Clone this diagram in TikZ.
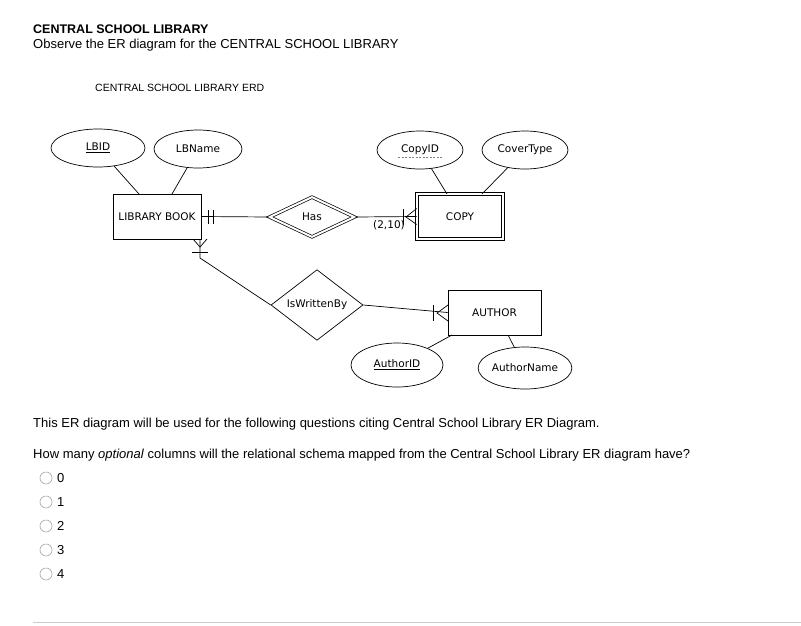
\documentclass[tikz,border=0pt]{standalone}
\usepackage{fontspec}
\setmainfont{Liberation Sans}
\newfontfamily\dv{DejaVu Sans}
\usetikzlibrary{shapes.geometric,calc}
\begin{document}
\begin{tikzpicture}[x=1pt,y=-1pt,
  lw/.style={line width=0.7pt},
  dfont/.style={font=\dv\fontsize{10.5}{12}\selectfont},
  ent/.style={draw,lw,minimum width=#1,minimum height=45pt,inner sep=0pt,dfont},
  att/.style={draw,lw,ellipse,minimum width=#1,minimum height=38pt,inner sep=0pt,dfont},
  rel/.style={draw,lw,diamond,minimum width=#1,minimum height=44pt,inner sep=0pt,dfont},
  txt/.style={anchor=west,inner sep=0pt,font=\fontsize{13}{15}\selectfont},
  radio/.style={draw=gray!70,line width=0.6pt,circle,minimum size=12pt,inner sep=0pt}]
\useasboundingbox (0,0) rectangle (801,625);
\node[txt,font=\bfseries\fontsize{12.5}{15}\selectfont] (t1) at (33,29) {CENTRAL SCHOOL LIBRARY};
\node[txt] (t2) at (33,45) {Observe the ER diagram for the CENTRAL SCHOOL LIBRARY};
\node[txt,font=\fontsize{10.5}{12}\selectfont] (t3) at (95,88) {CENTRAL SCHOOL LIBRARY ERD};
% entities
\node[ent=88pt] (lb) at (157,216.5) {LIBRARY BOOK};
\node[ent=86pt,double,double distance=2pt] (cp) at (460,216.5) {COPY};
\node[ent=93pt] (au) at (494.5,312.5) {AUTHOR};
% attributes
\node[att=94pt] (lbid) at (98,148) {\underline{LBID}};
\node[att=88pt] (lbn) at (198,149) {LBName};
\node[att=86pt] (cid) at (420,150) {CopyID};
\draw[dashed,gray,line width=0.3pt,dash pattern=on 2pt off 1.5pt] (398,157.5) -- (443,157.5);
\node[att=86pt] (ct) at (525,150) {CoverType};
\node[att=92pt,minimum height=44pt] (aid) at (397,365) {\underline{AuthorID}};
\node[att=93pt,minimum height=42pt] (an) at (525,368) {AuthorName};
% relationships
\node[rel=85pt,double,double distance=2pt,minimum height=40pt] (has) at (312,217) {Has};
\node[rel=92pt,minimum height=46pt] (iwb) at (317,305) {IsWrittenBy};
% attribute links
\draw[lw] (lbid) -- (139,194);
\draw[lw] (lbn) -- (172,194);
\draw[lw] (cid) -- (447,194);
\draw[lw] (ct) -- (482,194);
\draw[lw] (aid) -- (452,335);
\draw[lw] (an) -- (508,335);
% Has links
\draw[lw] (lb.east) -- (has.west);
\draw[lw] (208,210) -- (208,224) (213,210) -- (213,224);
\draw[lw] (has.east) -- (cp.west);
\coordinate (cf1) at (406,217);
\draw[lw] (403,209) -- (403,225);
\draw[lw] ($(cp.west)+(0,-8)$) -- (cf1) -- ($(cp.west)+(0,8)$);
\node[dfont,inner sep=0pt] (lab) at (389,225) {(2,10)};
% IsWrittenBy links
\coordinate (b1) at (200,239);
\coordinate (b2) at (200,258);
\draw[lw] (b1) -- (b2) -- (iwb.west);
\draw[lw] (193,239) -- (200,247) -- (207,239);
\draw[lw] (192,252) -- (208,252);
\draw[lw] (iwb.east) -- (au.west);
\draw[lw] (433,305) -- (433,321);
\draw[lw] (448,305) -- (437,313) -- (448,321);
% question
\node[txt] (q1) at (33,424) {This ER diagram will be used for the following questions citing Central School Library ER Diagram.};
\node[txt] (q2) at (33,455) {How many \textit{optional} columns will the relational schema mapped from the Central School Library ER diagram have?};
\foreach \v [count=\i from 0] in {0,1,2,3,4} {
  \node[radio] (r\i) at (46,478+24*\i) {};
  \node[txt] (l\i) at (57,478+24*\i) {\v};
}
\draw[gray!40,line width=0.8pt] (33,622) -- (801,622);
\end{tikzpicture}
\end{document}
